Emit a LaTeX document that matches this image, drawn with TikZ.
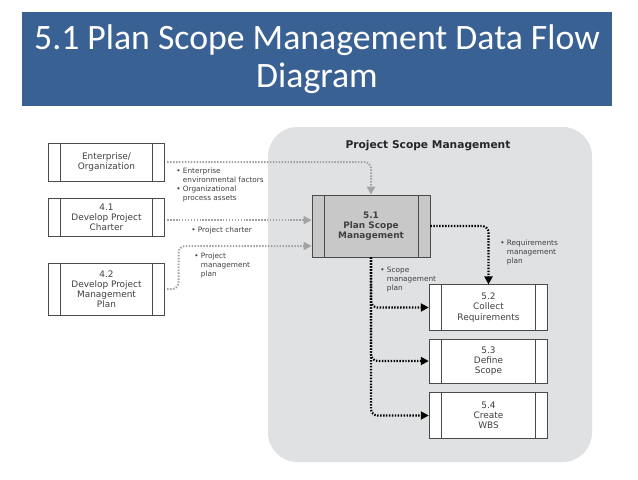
\documentclass[tikz,border=0pt]{standalone}
\usepackage{fontspec}
\setmainfont{DejaVu Sans}
\newfontfamily\titlefont{Carlito}
\usetikzlibrary{arrows.meta}
\definecolor{titleblue}{HTML}{3A6194}
\definecolor{scopegray}{HTML}{E0E1E3}
\definecolor{plangray}{HTML}{C8C8C9}
\definecolor{boxline}{HTML}{4A4A4A}
\definecolor{flowgray}{HTML}{A3A3A3}
\tikzset{
  proc/.style={draw=boxline, line width=0.6pt, fill=white, text=black!75,
    font=\fontsize{6.7}{7.6}\selectfont, align=center, minimum width=86.5pt,
    path picture={
      \draw[boxline, line width=0.6pt] ([xshift=9pt]path picture bounding box.north west) -- ([xshift=9pt]path picture bounding box.south west);
      \draw[boxline, line width=0.6pt] ([xshift=-9pt]path picture bounding box.north east) -- ([xshift=-9pt]path picture bounding box.south east);
    }},
  note/.style={anchor=north west, align=left, inner sep=0pt, text=black!75,
    font=\fontsize{5.5}{6.7}\selectfont},
  inflow/.style={flowgray, line width=1.5pt, dash pattern=on 1.1pt off 1.1pt,
    rounded corners=5pt, -{Triangle[length=6pt,width=6pt]}},
  outflow/.style={black, line width=1.6pt, dash pattern=on 1.1pt off 1.1pt,
    rounded corners=5pt, -{Triangle[length=6pt,width=6pt]}}
}
\begin{document}
\begin{tikzpicture}[x=0.75pt,y=-0.75pt]
    \useasboundingbox (0,0) rectangle (638,479);
    % title
    \fill[titleblue] (22,12) rectangle (612,106);
    \node[text=white, align=center, font=\titlefont\fontsize{26.8}{29}\selectfont] (title) at (317,59) {5.1 Plan Scope Management Data Flow\\Diagram};
    % scope area
    \fill[scopegray, rounded corners=22pt] (268,127) rectangle (592,462);
    \node[font=\bfseries\fontsize{8}{9}\selectfont, text=black!85] (area) at (428,146) {Project Scope Management};
    % inputs
    \node[proc, minimum height=28.5pt] (ent) at (106.5,162) {Enterprise/\\Organization};
    \node[proc, minimum height=29pt] (charter) at (106.5,217.5) {4.1\\Develop Project\\Charter};
    \node[proc, minimum height=39pt] (pmplan) at (106.5,289) {4.2\\Develop Project\\Management\\Plan};
    % processes
    \node[proc, fill=plangray, minimum width=88.5pt, minimum height=46.5pt, font=\bfseries\fontsize{6.7}{7.6}\selectfont] (plan) at (371,226) {5.1\\Plan Scope\\Management};
    \node[proc, minimum width=89pt, minimum height=34pt] (collect) at (488.5,307.5) {5.2\\Collect\\Requirements};
    \node[proc, minimum width=89pt, minimum height=33pt] (define) at (488.5,361) {5.3\\Define\\Scope};
    \node[proc, minimum width=89pt, minimum height=34pt] (wbs) at (488.5,415.5) {5.4\\Create\\WBS};
    % data flows
    \draw[inflow, shorten <=2pt] (ent.east) -| (plan.north);
    \draw[inflow, shorten <=2pt] ([yshift=-2pt]charter.east) -- ([yshift=-2pt]charter.east -| plan.west);
    \draw[inflow, shorten <=2pt] (pmplan.east) -- ++(14,0) |- ([yshift=-15pt]plan.west);
    \draw[outflow] (plan.east) -| (collect.north);
    \draw[outflow] (plan.south) |- (collect.west);
    \draw[outflow] (plan.south) |- (define.west);
    \draw[outflow] (plan.south) |- (wbs.west);
    % labels
    \node[note] (envlbl) at (176,168) {\textbullet\ Enterprise\\\phantom{\textbullet\ }environmental factors\\\textbullet\ Organizational\\\phantom{\textbullet\ }process assets};
    \node[note] (chlbl) at (191,227) {\textbullet\ Project charter};
    \node[note] (pmlbl) at (194,253) {\textbullet\ Project\\\phantom{\textbullet\ }management\\\phantom{\textbullet\ }plan};
    \node[note] (reqlbl) at (500,240) {\textbullet\ Requirements\\\phantom{\textbullet\ }management\\\phantom{\textbullet\ }plan};
    \node[note] (scopelbl) at (380,267) {\textbullet\ Scope\\\phantom{\textbullet\ }management\\\phantom{\textbullet\ }plan};
\end{tikzpicture}
\end{document}
